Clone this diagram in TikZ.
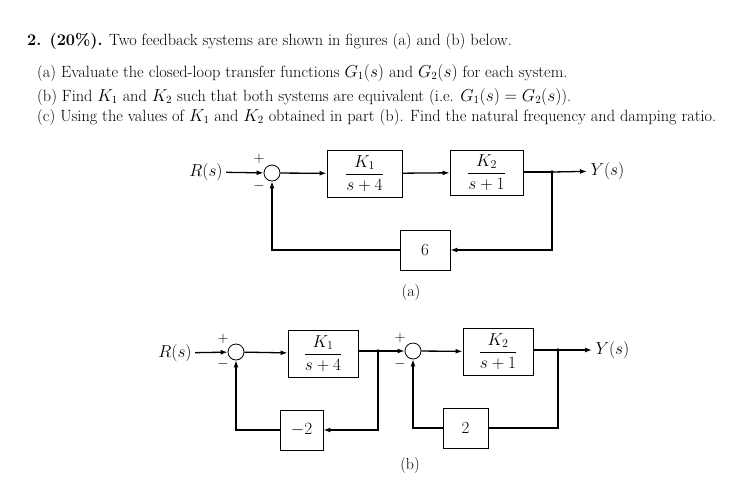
\documentclass[tikz,border=0pt]{standalone}
\usepackage{amsmath}
\usetikzlibrary{arrows.meta}
\begin{document}
\begin{tikzpicture}[x=1pt,y=-1pt,
  blk/.style={draw,line width=0.9pt,inner sep=0pt,font=\fontsize{17}{20}\selectfont},
  sumc/.style={draw,circle,line width=0.8pt,minimum size=16pt,inner sep=0pt},
  sig/.style={line width=1.3pt},
  arr/.style={sig,-{Latex[length=7pt,width=5pt]}},
  lab/.style={font=\fontsize{16}{19}\selectfont},
  pm/.style={font=\fontsize{15}{18}\selectfont,inner sep=0pt},
  txt/.style={anchor=west,inner sep=0pt,font=\fontsize{16.3}{19}\selectfont}]
\useasboundingbox (0,0) rectangle (755,496);
\node[txt] (t0) at (27,41) {\textbf{2. (20\%).} Two feedback systems are shown in figures (a) and (b) below.};
\node[txt] (t1) at (37,73) {(a) Evaluate the closed-loop transfer functions $G_1(s)$ and $G_2(s)$ for each system.};
\node[txt] (t2) at (37,97) {(b) Find $K_1$ and $K_2$ such that both systems are equivalent (i.e. $G_1(s)=G_2(s)$).};
\node[txt] (t3) at (37,117) {(c) Using the values of $K_1$ and $K_2$ obtained in part (b). Find the natural frequency and damping ratio.};
% (a)
\node[lab] (ra) at (206,172) {$R(s)$};
\node[sumc] (sa) at (272,173) {};
\node[blk,minimum width=75pt,minimum height=47pt] (a1) at (364.5,173.5) {$\dfrac{K_1}{s+4}$};
\node[blk,minimum width=73pt,minimum height=45pt] (a2) at (486.5,172.5) {$\dfrac{K_2}{s+1}$};
\node[blk,minimum width=50pt,minimum height=40pt] (a6) at (425,250) {6};
\coordinate (pa) at (552,172);
\node[lab,anchor=west] (ya) at (587,171) {$Y(s)$};
\fill (pa) circle (1.8pt);
\draw[arr] (ra) -- (sa);
\draw[arr] (sa) -- (a1);
\draw[arr] (a1) -- (a2);
\draw[sig] (a2.east|-pa) -- (pa);
\draw[arr] (pa) -- (ya);
\draw[arr] (pa) |- (a6);
\draw[arr] (a6) -| (sa);
\node[pm] (pla) at (259,159) {$+$};
\node[pm] (mia) at (259,186) {$-$};
\node[lab] (capa) at (411,293) {(a)};
% (b)
\node[lab] (rb) at (175,353) {$R(s)$};
\node[sumc] (sb1) at (236,352) {};
\node[blk,minimum width=70pt,minimum height=47pt] (b1) at (323,353.5) {$\dfrac{K_1}{s+4}$};
\coordinate (pb1) at (378,351);
\fill (pb1) circle (1.8pt);
\node[sumc] (sb2) at (413,351) {};
\node[blk,minimum width=70pt,minimum height=47pt] (b2) at (498,351.5) {$\dfrac{K_2}{s+1}$};
\coordinate (pb2) at (558,350);
\fill (pb2) circle (1.8pt);
\node[lab,anchor=west] (yb) at (592,350) {$Y(s)$};
\node[blk,minimum width=43pt,minimum height=40pt] (bm2) at (301.5,430) {$-2$};
\node[blk,minimum width=45pt,minimum height=40pt] (bp2) at (465.5,428) {2};
\draw[arr] (rb) -- (sb1);
\draw[arr] (sb1) -- (b1);
\draw[sig] (b1.east|-pb1) -- (pb1);
\draw[arr] (pb1) -- (sb2);
\draw[arr] (sb2) -- (b2);
\draw[sig] (b2.east|-pb2) -- (pb2);
\draw[arr] (pb2) -- (yb);
\draw[arr] (pb1) |- (bm2);
\draw[arr] (bm2) -| (sb1);
\draw[sig] (pb2) |- (bp2);
\draw[arr] (bp2) -| (sb2);
\node[pm] (plb1) at (223,339) {$+$};
\node[pm] (mib1) at (223,364) {$-$};
\node[pm] (plb2) at (400,338) {$+$};
\node[pm] (mib2) at (400,364) {$-$};
\node[lab] (capb) at (410,465) {(b)};
\end{tikzpicture}
\end{document}
